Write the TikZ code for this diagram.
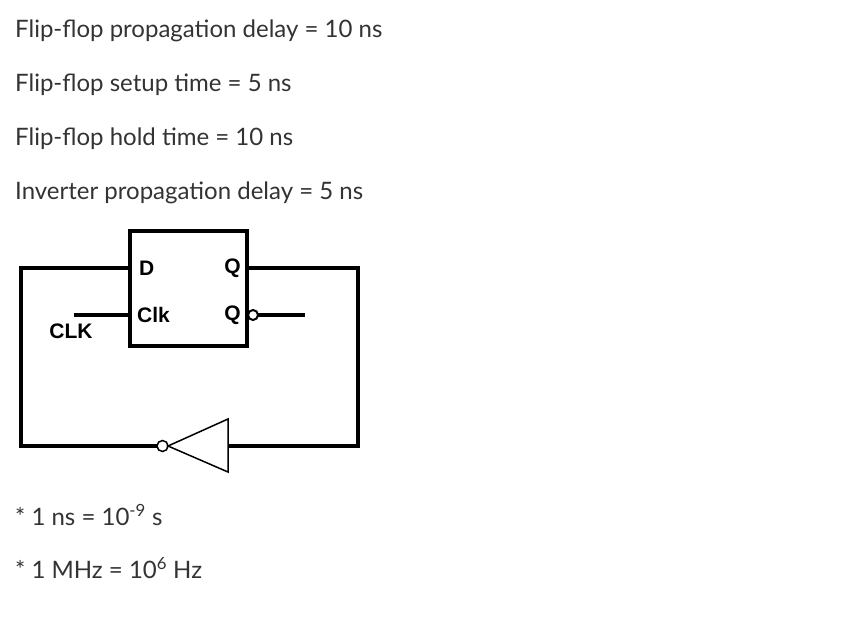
\documentclass[tikz,border=0pt]{standalone}
\usepackage{fontspec}
\setmainfont{Lato}
\newfontfamily\arial{Liberation Sans}
\begin{document}
\begin{tikzpicture}[x=1pt,y=-1pt,
  txt/.style={anchor=west,inner sep=0pt,text=black!80,font=\fontsize{24}{28}\selectfont},
  lbl/.style={inner sep=0pt,font=\arial\bfseries\fontsize{21}{24}\selectfont},
  wire/.style={line width=3.5pt},
  thin/.style={line width=2pt}]
\useasboundingbox (0,0) rectangle (849,616);
\node[txt] (t1) at (15,31) {Flip-flop propagation delay = 10 ns};
\node[txt] (t2) at (15,85) {Flip-flop setup time = 5 ns};
\node[txt] (t3) at (15,139) {Flip-flop hold time = 10 ns};
\node[txt] (t4) at (15,193) {Inverter propagation delay = 5 ns};
\node[txt] (t5) at (15,515) {* 1 ns = 10\textsuperscript{-9} s};
\node[txt] (t6) at (15,568) {* 1 MHz = 10\textsuperscript{6} Hz};
% flip-flop
\draw[wire] (130,231) rectangle (247,346);
\node[lbl,anchor=west] (d) at (139,268) {D};
\node[lbl,anchor=east] (q) at (241,268) {Q};
\node[lbl,anchor=west] (clk) at (137,315) {Clk};
\node[lbl,anchor=east] (qb) at (241,315) {Q};
\node[lbl] (CLK) at (71,331) {CLK};
\coordinate (dl) at (130,268);
\coordinate (ql) at (247,268);
\coordinate (cl) at (130,315);
\coordinate (ce) at (74,315);
\draw[wire] (ce) -- (cl);
% Qbar bubble
\draw[thin] (253,315) circle (5);
\coordinate (qbe) at (305,315);
\draw[wire] (258,315) -- (qbe);
% inverter
\draw[line width=1.5pt,fill=white] (228,419) -- (228,472) -- (168,446) -- cycle;
\draw[line width=1.5pt] (162.5,446) circle (5.5);
\coordinate (inin) at (228,446);
\coordinate (inout) at (157,446);
\draw[wire] (ql) -- (358,268) |- (inin);
\draw[wire] (inout) -- (21,446) |- (dl);
\end{tikzpicture}
\end{document}
